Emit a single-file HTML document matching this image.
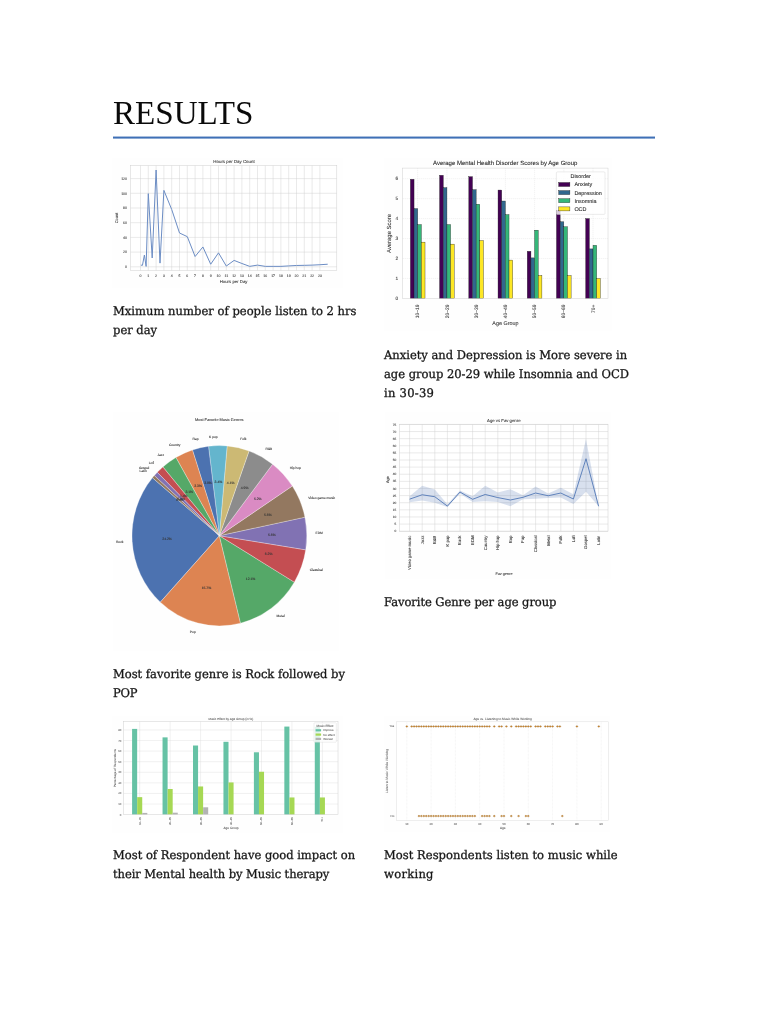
<!DOCTYPE html>
<html lang="en">
<head>
<meta charset="utf-8">
<title>RESULTS</title>
<style>
html,body{margin:0;padding:0;background:#fff;}
body{width:768px;height:1024px;position:relative;overflow:hidden;color:#111;}
h1{position:absolute;left:112.9px;top:92.7px;margin:0;font:normal 33.15px/40px "Liberation Serif","DejaVu Serif",serif;color:#0a0a0a;letter-spacing:0;white-space:nowrap;transform:scaleY(1.03);transform-origin:0 31.3px;}
.rule{position:absolute;left:113.4px;top:136px;width:541.3px;height:3px;background:linear-gradient(to bottom,rgba(63,112,182,.45) 0,rgba(63,112,182,.45) 1px,#3f70b6 1px,#3f70b6 2px,rgba(63,112,182,.6) 2px,rgba(63,112,182,.6) 3px);}
.ln{position:absolute;display:block;margin:0;font:11.9px/16px "DejaVu Serif",serif;color:#161616;white-space:nowrap;text-rendering:geometricPrecision;-webkit-text-stroke:0.3px #161616;transform:scaleX(.9706);transform-origin:0 0;}
.fig{position:absolute;overflow:hidden;}
.fig svg{filter:blur(.35px);}
.fig svg{display:block;font-family:"Liberation Sans","DejaVu Sans",sans-serif;}
.fig text{stroke:#444;stroke-width:.09px;text-rendering:geometricPrecision;}
.fig .lt text{stroke:#666;stroke-width:.05px;}
</style>
</head>
<body>
<h1>RESULTS</h1>
<div class="rule"></div>

<div class="fig" style="left:112px;top:158px;width:231px;height:130px"><svg width="231" height="130" viewBox="112 158 231 130"><rect x="112" y="158" width="231" height="130" fill="#fefefe"/>
<rect x="130.5" y="165.6" width="206.3" height="104.9" fill="#ffffff"/>
<line x1="140.5" y1="165.6" x2="140.5" y2="270.5" stroke="#d0d0d0" stroke-width="0.45"/>
<line x1="148.3" y1="165.6" x2="148.3" y2="270.5" stroke="#d0d0d0" stroke-width="0.45"/>
<line x1="156.1" y1="165.6" x2="156.1" y2="270.5" stroke="#d0d0d0" stroke-width="0.45"/>
<line x1="163.9" y1="165.6" x2="163.9" y2="270.5" stroke="#d0d0d0" stroke-width="0.45"/>
<line x1="171.7" y1="165.6" x2="171.7" y2="270.5" stroke="#d0d0d0" stroke-width="0.45"/>
<line x1="179.5" y1="165.6" x2="179.5" y2="270.5" stroke="#d0d0d0" stroke-width="0.45"/>
<line x1="187.3" y1="165.6" x2="187.3" y2="270.5" stroke="#d0d0d0" stroke-width="0.45"/>
<line x1="195.1" y1="165.6" x2="195.1" y2="270.5" stroke="#d0d0d0" stroke-width="0.45"/>
<line x1="202.9" y1="165.6" x2="202.9" y2="270.5" stroke="#d0d0d0" stroke-width="0.45"/>
<line x1="210.7" y1="165.6" x2="210.7" y2="270.5" stroke="#d0d0d0" stroke-width="0.45"/>
<line x1="218.5" y1="165.6" x2="218.5" y2="270.5" stroke="#d0d0d0" stroke-width="0.45"/>
<line x1="226.3" y1="165.6" x2="226.3" y2="270.5" stroke="#d0d0d0" stroke-width="0.45"/>
<line x1="234.1" y1="165.6" x2="234.1" y2="270.5" stroke="#d0d0d0" stroke-width="0.45"/>
<line x1="241.9" y1="165.6" x2="241.9" y2="270.5" stroke="#d0d0d0" stroke-width="0.45"/>
<line x1="249.7" y1="165.6" x2="249.7" y2="270.5" stroke="#d0d0d0" stroke-width="0.45"/>
<line x1="257.5" y1="165.6" x2="257.5" y2="270.5" stroke="#d0d0d0" stroke-width="0.45"/>
<line x1="265.3" y1="165.6" x2="265.3" y2="270.5" stroke="#d0d0d0" stroke-width="0.45"/>
<line x1="273.1" y1="165.6" x2="273.1" y2="270.5" stroke="#d0d0d0" stroke-width="0.45"/>
<line x1="280.9" y1="165.6" x2="280.9" y2="270.5" stroke="#d0d0d0" stroke-width="0.45"/>
<line x1="288.7" y1="165.6" x2="288.7" y2="270.5" stroke="#d0d0d0" stroke-width="0.45"/>
<line x1="296.5" y1="165.6" x2="296.5" y2="270.5" stroke="#d0d0d0" stroke-width="0.45"/>
<line x1="304.3" y1="165.6" x2="304.3" y2="270.5" stroke="#d0d0d0" stroke-width="0.45"/>
<line x1="312.1" y1="165.6" x2="312.1" y2="270.5" stroke="#d0d0d0" stroke-width="0.45"/>
<line x1="319.9" y1="165.6" x2="319.9" y2="270.5" stroke="#d0d0d0" stroke-width="0.45"/>
<line x1="130.5" y1="266.8" x2="336.8" y2="266.8" stroke="#d0d0d0" stroke-width="0.45"/>
<line x1="130.5" y1="252.1" x2="336.8" y2="252.1" stroke="#d0d0d0" stroke-width="0.45"/>
<line x1="130.5" y1="237.4" x2="336.8" y2="237.4" stroke="#d0d0d0" stroke-width="0.45"/>
<line x1="130.5" y1="222.7" x2="336.8" y2="222.7" stroke="#d0d0d0" stroke-width="0.45"/>
<line x1="130.5" y1="208" x2="336.8" y2="208" stroke="#d0d0d0" stroke-width="0.45"/>
<line x1="130.5" y1="193.3" x2="336.8" y2="193.3" stroke="#d0d0d0" stroke-width="0.45"/>
<line x1="130.5" y1="178.6" x2="336.8" y2="178.6" stroke="#d0d0d0" stroke-width="0.45"/>
<rect x="130.5" y="165.6" width="206.3" height="104.9" fill="none" stroke="#cfcfcf" stroke-width="0.5"/>
<polyline points="140.89,265.11 142.45,265.33 144.4,255.04 146.12,266.43 148.3,193.67 152.2,257.98 156.1,170 160,263.12 163.9,190.36 171.7,209.47 179.5,232.99 187.3,236.67 195.1,256.51 202.9,246.96 210.7,264.23 218.5,252.84 226.3,266.06 234.1,260.41 241.9,263.49 249.7,266.36 257.5,265.11 265.3,266.36 273.1,266.36 280.9,266.36 288.7,265.92 296.5,265.48 304.3,265.33 312.1,265.11 319.9,264.74 327.7,264.23" fill="none" stroke="#6c8dc4" stroke-width="1.0" stroke-linejoin="round"/>
<text x="140.5" y="277.4" font-size="3.5" text-anchor="middle" fill="#444">0</text>
<text x="148.3" y="277.4" font-size="3.5" text-anchor="middle" fill="#444">1</text>
<text x="156.1" y="277.4" font-size="3.5" text-anchor="middle" fill="#444">2</text>
<text x="163.9" y="277.4" font-size="3.5" text-anchor="middle" fill="#444">3</text>
<text x="171.7" y="277.4" font-size="3.5" text-anchor="middle" fill="#444">4</text>
<text x="179.5" y="277.4" font-size="3.5" text-anchor="middle" fill="#444">5</text>
<text x="187.3" y="277.4" font-size="3.5" text-anchor="middle" fill="#444">6</text>
<text x="195.1" y="277.4" font-size="3.5" text-anchor="middle" fill="#444">7</text>
<text x="202.9" y="277.4" font-size="3.5" text-anchor="middle" fill="#444">8</text>
<text x="210.7" y="277.4" font-size="3.5" text-anchor="middle" fill="#444">9</text>
<text x="218.5" y="277.4" font-size="3.5" text-anchor="middle" fill="#444">10</text>
<text x="226.3" y="277.4" font-size="3.5" text-anchor="middle" fill="#444">11</text>
<text x="234.1" y="277.4" font-size="3.5" text-anchor="middle" fill="#444">12</text>
<text x="241.9" y="277.4" font-size="3.5" text-anchor="middle" fill="#444">13</text>
<text x="249.7" y="277.4" font-size="3.5" text-anchor="middle" fill="#444">14</text>
<text x="257.5" y="277.4" font-size="3.5" text-anchor="middle" fill="#444">15</text>
<text x="265.3" y="277.4" font-size="3.5" text-anchor="middle" fill="#444">16</text>
<text x="273.1" y="277.4" font-size="3.5" text-anchor="middle" fill="#444">17</text>
<text x="280.9" y="277.4" font-size="3.5" text-anchor="middle" fill="#444">18</text>
<text x="288.7" y="277.4" font-size="3.5" text-anchor="middle" fill="#444">19</text>
<text x="296.5" y="277.4" font-size="3.5" text-anchor="middle" fill="#444">20</text>
<text x="304.3" y="277.4" font-size="3.5" text-anchor="middle" fill="#444">21</text>
<text x="312.1" y="277.4" font-size="3.5" text-anchor="middle" fill="#444">22</text>
<text x="319.9" y="277.4" font-size="3.5" text-anchor="middle" fill="#444">23</text>
<text x="127" y="268" font-size="3.5" text-anchor="end" fill="#444">0</text>
<text x="127" y="253.3" font-size="3.5" text-anchor="end" fill="#444">20</text>
<text x="127" y="238.6" font-size="3.5" text-anchor="end" fill="#444">40</text>
<text x="127" y="223.9" font-size="3.5" text-anchor="end" fill="#444">60</text>
<text x="127" y="209.2" font-size="3.5" text-anchor="end" fill="#444">80</text>
<text x="127" y="194.5" font-size="3.5" text-anchor="end" fill="#444">100</text>
<text x="127" y="179.8" font-size="3.5" text-anchor="end" fill="#444">120</text>
<text x="234" y="163.3" font-size="4.41" text-anchor="middle" fill="#333">Hours per Day Count</text>
<text x="233.6" y="282.6" font-size="4.3" text-anchor="middle" fill="#333">Hours per Day</text>
<text x="118.2" y="218" font-size="4.0" text-anchor="middle" fill="#333" transform="rotate(-90 118.2 218)">Count</text>
</svg></div>
<div class="fig" style="left:384px;top:158px;width:228px;height:173px"><svg width="228" height="173" viewBox="384 158 228 173"><rect x="384" y="158" width="228" height="173" fill="#fefefe"/>
<rect x="402.7" y="168.1" width="205.3" height="130.3" fill="#ffffff"/>
<line x1="417.7" y1="168.1" x2="417.7" y2="298.4" stroke="#dedede" stroke-width="0.4" stroke-dasharray="1.2 0.8"/>
<line x1="446.92" y1="168.1" x2="446.92" y2="298.4" stroke="#dedede" stroke-width="0.4" stroke-dasharray="1.2 0.8"/>
<line x1="476.14" y1="168.1" x2="476.14" y2="298.4" stroke="#dedede" stroke-width="0.4" stroke-dasharray="1.2 0.8"/>
<line x1="505.36" y1="168.1" x2="505.36" y2="298.4" stroke="#dedede" stroke-width="0.4" stroke-dasharray="1.2 0.8"/>
<line x1="534.58" y1="168.1" x2="534.58" y2="298.4" stroke="#dedede" stroke-width="0.4" stroke-dasharray="1.2 0.8"/>
<line x1="563.8" y1="168.1" x2="563.8" y2="298.4" stroke="#dedede" stroke-width="0.4" stroke-dasharray="1.2 0.8"/>
<line x1="593.02" y1="168.1" x2="593.02" y2="298.4" stroke="#dedede" stroke-width="0.4" stroke-dasharray="1.2 0.8"/>
<line x1="402.7" y1="278.45" x2="608" y2="278.45" stroke="#dedede" stroke-width="0.4" stroke-dasharray="1.2 0.8"/>
<line x1="402.7" y1="258.5" x2="608" y2="258.5" stroke="#dedede" stroke-width="0.4" stroke-dasharray="1.2 0.8"/>
<line x1="402.7" y1="238.55" x2="608" y2="238.55" stroke="#dedede" stroke-width="0.4" stroke-dasharray="1.2 0.8"/>
<line x1="402.7" y1="218.6" x2="608" y2="218.6" stroke="#dedede" stroke-width="0.4" stroke-dasharray="1.2 0.8"/>
<line x1="402.7" y1="198.65" x2="608" y2="198.65" stroke="#dedede" stroke-width="0.4" stroke-dasharray="1.2 0.8"/>
<line x1="402.7" y1="178.7" x2="608" y2="178.7" stroke="#dedede" stroke-width="0.4" stroke-dasharray="1.2 0.8"/>
<rect x="410.38" y="179.3" width="3.66" height="119.1" fill="#440154" stroke="#1a1a1a" stroke-width="0.35"/>
<rect x="414.04" y="208.62" width="3.66" height="89.77" fill="#31688e" stroke="#1a1a1a" stroke-width="0.35"/>
<rect x="417.7" y="224.58" width="3.66" height="73.81" fill="#35b779" stroke="#1a1a1a" stroke-width="0.35"/>
<rect x="421.36" y="242.14" width="3.66" height="56.26" fill="#fde725" stroke="#1a1a1a" stroke-width="0.35"/>
<rect x="439.6" y="175.31" width="3.66" height="123.09" fill="#440154" stroke="#1a1a1a" stroke-width="0.35"/>
<rect x="443.26" y="187.68" width="3.66" height="110.72" fill="#31688e" stroke="#1a1a1a" stroke-width="0.35"/>
<rect x="446.92" y="224.58" width="3.66" height="73.81" fill="#35b779" stroke="#1a1a1a" stroke-width="0.35"/>
<rect x="450.58" y="244.14" width="3.66" height="54.26" fill="#fde725" stroke="#1a1a1a" stroke-width="0.35"/>
<rect x="468.82" y="176.7" width="3.66" height="121.69" fill="#440154" stroke="#1a1a1a" stroke-width="0.35"/>
<rect x="472.48" y="189.67" width="3.66" height="108.73" fill="#31688e" stroke="#1a1a1a" stroke-width="0.35"/>
<rect x="476.14" y="204.24" width="3.66" height="94.16" fill="#35b779" stroke="#1a1a1a" stroke-width="0.35"/>
<rect x="479.8" y="240.54" width="3.66" height="57.85" fill="#fde725" stroke="#1a1a1a" stroke-width="0.35"/>
<rect x="498.04" y="190.07" width="3.66" height="108.33" fill="#440154" stroke="#1a1a1a" stroke-width="0.35"/>
<rect x="501.7" y="201.04" width="3.66" height="97.36" fill="#31688e" stroke="#1a1a1a" stroke-width="0.35"/>
<rect x="505.36" y="214.61" width="3.66" height="83.79" fill="#35b779" stroke="#1a1a1a" stroke-width="0.35"/>
<rect x="509.02" y="260.1" width="3.66" height="38.3" fill="#fde725" stroke="#1a1a1a" stroke-width="0.35"/>
<rect x="527.26" y="251.32" width="3.66" height="47.08" fill="#440154" stroke="#1a1a1a" stroke-width="0.35"/>
<rect x="530.92" y="257.9" width="3.66" height="40.5" fill="#31688e" stroke="#1a1a1a" stroke-width="0.35"/>
<rect x="534.58" y="230.17" width="3.66" height="68.23" fill="#35b779" stroke="#1a1a1a" stroke-width="0.35"/>
<rect x="538.24" y="275.46" width="3.66" height="22.94" fill="#fde725" stroke="#1a1a1a" stroke-width="0.35"/>
<rect x="556.48" y="210.22" width="3.66" height="88.18" fill="#440154" stroke="#1a1a1a" stroke-width="0.35"/>
<rect x="560.14" y="221.79" width="3.66" height="76.61" fill="#31688e" stroke="#1a1a1a" stroke-width="0.35"/>
<rect x="563.8" y="226.78" width="3.66" height="71.62" fill="#35b779" stroke="#1a1a1a" stroke-width="0.35"/>
<rect x="567.46" y="275.46" width="3.66" height="22.94" fill="#fde725" stroke="#1a1a1a" stroke-width="0.35"/>
<rect x="585.7" y="218.6" width="3.66" height="79.8" fill="#440154" stroke="#1a1a1a" stroke-width="0.35"/>
<rect x="589.36" y="248.92" width="3.66" height="49.48" fill="#31688e" stroke="#1a1a1a" stroke-width="0.35"/>
<rect x="593.02" y="245.33" width="3.66" height="53.07" fill="#35b779" stroke="#1a1a1a" stroke-width="0.35"/>
<rect x="596.68" y="278.45" width="3.66" height="19.95" fill="#fde725" stroke="#1a1a1a" stroke-width="0.35"/>
<rect x="402.7" y="168.1" width="205.3" height="130.3" fill="none" stroke="#d0d0d0" stroke-width="0.5"/>
<text x="398.2" y="300.1" font-size="4.8" text-anchor="end" fill="#444">0</text>
<text x="398.2" y="280.15" font-size="4.8" text-anchor="end" fill="#444">1</text>
<text x="398.2" y="260.2" font-size="4.8" text-anchor="end" fill="#444">2</text>
<text x="398.2" y="240.25" font-size="4.8" text-anchor="end" fill="#444">3</text>
<text x="398.2" y="220.3" font-size="4.8" text-anchor="end" fill="#444">4</text>
<text x="398.2" y="200.35" font-size="4.8" text-anchor="end" fill="#444">5</text>
<text x="398.2" y="180.4" font-size="4.8" text-anchor="end" fill="#444">6</text>
<text x="419.4" y="304.6" font-size="4.9" text-anchor="end" fill="#444" transform="rotate(-90 419.4 304.6)">10–19</text>
<text x="448.62" y="304.6" font-size="4.9" text-anchor="end" fill="#444" transform="rotate(-90 448.62 304.6)">20–29</text>
<text x="477.84" y="304.6" font-size="4.9" text-anchor="end" fill="#444" transform="rotate(-90 477.84 304.6)">30–39</text>
<text x="507.06" y="304.6" font-size="4.9" text-anchor="end" fill="#444" transform="rotate(-90 507.06 304.6)">40–49</text>
<text x="536.28" y="304.6" font-size="4.9" text-anchor="end" fill="#444" transform="rotate(-90 536.28 304.6)">50–59</text>
<text x="565.5" y="304.6" font-size="4.9" text-anchor="end" fill="#444" transform="rotate(-90 565.5 304.6)">60–69</text>
<text x="594.72" y="304.6" font-size="4.9" text-anchor="end" fill="#444" transform="rotate(-90 594.72 304.6)">70+</text>
<text x="505.2" y="164.8" font-size="6.03" text-anchor="middle" fill="#222">Average Mental Health Disorder Scores by Age Group</text>
<text x="505.4" y="325.2" font-size="5.4" text-anchor="middle" fill="#333">Age Group</text>
<text x="391.4" y="233.5" font-size="5.9" text-anchor="middle" fill="#333" transform="rotate(-90 391.4 233.5)">Average Score</text>
<rect x="556.4" y="171.9" width="48.6" height="42.5" fill="#ffffff" stroke="#d0d0d0" stroke-width="0.4" fill-opacity="0.8" rx="1"/>
<text x="580.7" y="178.2" font-size="5.4" text-anchor="middle" fill="#222">Disorder</text>
<rect x="558.7" y="182.5" width="11.2" height="4" fill="#440154" stroke="#1a1a1a" stroke-width="0.35"/>
<text x="574.4" y="186.4" font-size="5.45" text-anchor="start" fill="#222">Anxiety</text>
<rect x="558.7" y="190.6" width="11.2" height="4" fill="#31688e" stroke="#1a1a1a" stroke-width="0.35"/>
<text x="574.4" y="194.5" font-size="5.45" text-anchor="start" fill="#222">Depression</text>
<rect x="558.7" y="198.7" width="11.2" height="4" fill="#35b779" stroke="#1a1a1a" stroke-width="0.35"/>
<text x="574.4" y="202.6" font-size="5.45" text-anchor="start" fill="#222">Insomnia</text>
<rect x="558.7" y="206.9" width="11.2" height="4" fill="#fde725" stroke="#1a1a1a" stroke-width="0.35"/>
<text x="574.4" y="210.8" font-size="5.45" text-anchor="start" fill="#222">OCD</text>
</svg></div>
<div class="fig" style="left:113px;top:412px;width:226px;height:239px"><svg width="226" height="239" viewBox="113 412 226 239"><rect x="113" y="412" width="226" height="239" fill="#fefefe"/>
<path d="M219.4,535.7 L152.45,477.75 A87.4,90.15 0 0 0 160.33,602.14 Z" fill="#4c72b0" stroke="#ffffff" stroke-width="0.3" stroke-linejoin="round"/>
<path d="M219.4,535.7 L160.33,602.14 A87.4,90.15 0 0 0 240.54,623.17 Z" fill="#dd8452" stroke="#ffffff" stroke-width="0.3" stroke-linejoin="round"/>
<path d="M219.4,535.7 L240.54,623.17 A87.4,90.15 0 0 0 294.32,582.13 Z" fill="#55a868" stroke="#ffffff" stroke-width="0.3" stroke-linejoin="round"/>
<path d="M219.4,535.7 L294.32,582.13 A87.4,90.15 0 0 0 305.71,549.86 Z" fill="#c44e52" stroke="#ffffff" stroke-width="0.3" stroke-linejoin="round"/>
<path d="M219.4,535.7 L305.71,549.86 A87.4,90.15 0 0 0 304.94,517.2 Z" fill="#8172b3" stroke="#ffffff" stroke-width="0.3" stroke-linejoin="round"/>
<path d="M219.4,535.7 L304.94,517.2 A87.4,90.15 0 0 0 292.33,486.02 Z" fill="#937860" stroke="#ffffff" stroke-width="0.3" stroke-linejoin="round"/>
<path d="M219.4,535.7 L292.33,486.02 A87.4,90.15 0 0 0 272.58,464.16 Z" fill="#da8bc3" stroke="#ffffff" stroke-width="0.3" stroke-linejoin="round"/>
<path d="M219.4,535.7 L272.58,464.16 A87.4,90.15 0 0 0 249.06,450.9 Z" fill="#8c8c8c" stroke="#ffffff" stroke-width="0.3" stroke-linejoin="round"/>
<path d="M219.4,535.7 L249.06,450.9 A87.4,90.15 0 0 0 227.14,445.9 Z" fill="#ccb974" stroke="#ffffff" stroke-width="0.3" stroke-linejoin="round"/>
<path d="M219.4,535.7 L227.14,445.9 A87.4,90.15 0 0 0 208.51,446.25 Z" fill="#64b5cd" stroke="#ffffff" stroke-width="0.3" stroke-linejoin="round"/>
<path d="M219.4,535.7 L208.51,446.25 A87.4,90.15 0 0 0 192.45,449.94 Z" fill="#4c72b0" stroke="#ffffff" stroke-width="0.3" stroke-linejoin="round"/>
<path d="M219.4,535.7 L192.45,449.94 A87.4,90.15 0 0 0 175.91,457.5 Z" fill="#dd8452" stroke="#ffffff" stroke-width="0.3" stroke-linejoin="round"/>
<path d="M219.4,535.7 L175.91,457.5 A87.4,90.15 0 0 0 162.89,466.93 Z" fill="#55a868" stroke="#ffffff" stroke-width="0.3" stroke-linejoin="round"/>
<path d="M219.4,535.7 L162.89,466.93 A87.4,90.15 0 0 0 157.25,472.31 Z" fill="#c44e52" stroke="#ffffff" stroke-width="0.3" stroke-linejoin="round"/>
<path d="M219.4,535.7 L157.25,472.31 A87.4,90.15 0 0 0 154.25,475.61 Z" fill="#8172b3" stroke="#ffffff" stroke-width="0.3" stroke-linejoin="round"/>
<path d="M219.4,535.7 L154.25,475.61 A87.4,90.15 0 0 0 152.45,477.75 Z" fill="#937860" stroke="#ffffff" stroke-width="0.3" stroke-linejoin="round"/>
<text x="123.46" y="543.27" font-size="3.3" text-anchor="end" fill="#333">Rock</text>
<text x="167.07" y="540.43" font-size="3.4" text-anchor="middle" fill="#2a2a2a">24.2%</text>
<text x="195.72" y="632.91" font-size="3.3" text-anchor="end" fill="#333">Pop</text>
<text x="206.48" y="589.32" font-size="3.4" text-anchor="middle" fill="#2a2a2a">15.7%</text>
<text x="276.59" y="616.51" font-size="3.3" text-anchor="start" fill="#333">Metal</text>
<text x="250.59" y="580.38" font-size="3.4" text-anchor="middle" fill="#2a2a2a">12.1%</text>
<text x="309.73" y="570.75" font-size="3.3" text-anchor="start" fill="#333">Classical</text>
<text x="268.67" y="555.42" font-size="3.4" text-anchor="middle" fill="#2a2a2a">6.2%</text>
<text x="315.51" y="534.38" font-size="3.3" text-anchor="start" fill="#333">EDM</text>
<text x="271.82" y="535.58" font-size="3.4" text-anchor="middle" fill="#2a2a2a">5.6%</text>
<text x="308.13" y="498.63" font-size="3.3" text-anchor="start" fill="#333">Video game music</text>
<text x="267.8" y="516.08" font-size="3.4" text-anchor="middle" fill="#2a2a2a">5.6%</text>
<text x="289.74" y="469.19" font-size="3.3" text-anchor="start" fill="#333">Hip hop</text>
<text x="257.76" y="500.02" font-size="3.4" text-anchor="middle" fill="#2a2a2a">5.2%</text>
<text x="265.51" y="449.78" font-size="3.3" text-anchor="start" fill="#333">R&amp;B</text>
<text x="244.55" y="489.44" font-size="3.4" text-anchor="middle" fill="#2a2a2a">4.9%</text>
<text x="240.14" y="439.97" font-size="3.3" text-anchor="start" fill="#333">Folk</text>
<text x="230.71" y="484.08" font-size="3.4" text-anchor="middle" fill="#2a2a2a">4.1%</text>
<text x="217.66" y="437.65" font-size="3.3" text-anchor="end" fill="#333">K pop</text>
<text x="218.45" y="482.82" font-size="3.4" text-anchor="middle" fill="#2a2a2a">3.4%</text>
<text x="198.49" y="440.01" font-size="3.3" text-anchor="end" fill="#333">Rap</text>
<text x="208" y="484.1" font-size="3.4" text-anchor="middle" fill="#2a2a2a">3.0%</text>
<text x="180.45" y="446.14" font-size="3.3" text-anchor="end" fill="#333">Country</text>
<text x="198.15" y="487.45" font-size="3.4" text-anchor="middle" fill="#2a2a2a">3.3%</text>
<text x="164.17" y="455.63" font-size="3.3" text-anchor="end" fill="#333">Jazz</text>
<text x="189.28" y="492.62" font-size="3.4" text-anchor="middle" fill="#2a2a2a">3.1%</text>
<text x="154.08" y="464.04" font-size="3.3" text-anchor="end" fill="#333">Lofi</text>
<text x="183.77" y="497.21" font-size="3.4" text-anchor="middle" fill="#2a2a2a">1.4%</text>
<text x="149.36" y="468.87" font-size="3.3" text-anchor="end" fill="#333">Gospel</text>
<text x="181.2" y="499.85" font-size="3.4" text-anchor="middle" fill="#2a2a2a">0.8%</text>
<text x="146.73" y="471.87" font-size="3.3" text-anchor="end" fill="#333">Latin</text>
<text x="179.76" y="501.49" font-size="3.4" text-anchor="middle" fill="#2a2a2a">0.4%</text>
<text x="219.3" y="421" font-size="3.88" text-anchor="middle" fill="#333">Most Favorite Music Genres</text>
</svg></div>
<div class="fig" style="left:385px;top:412px;width:226px;height:167px"><svg width="226" height="167" viewBox="385 412 226 167"><rect x="385" y="412" width="226" height="167" fill="#fefefe"/>
<rect x="399.4" y="424.4" width="208.6" height="106.8" fill="#ffffff"/>
<line x1="409.6" y1="424.4" x2="409.6" y2="531.2" stroke="#d0d0d0" stroke-width="0.45"/>
<line x1="422.2" y1="424.4" x2="422.2" y2="531.2" stroke="#d0d0d0" stroke-width="0.45"/>
<line x1="434.8" y1="424.4" x2="434.8" y2="531.2" stroke="#d0d0d0" stroke-width="0.45"/>
<line x1="447.4" y1="424.4" x2="447.4" y2="531.2" stroke="#d0d0d0" stroke-width="0.45"/>
<line x1="460" y1="424.4" x2="460" y2="531.2" stroke="#d0d0d0" stroke-width="0.45"/>
<line x1="472.6" y1="424.4" x2="472.6" y2="531.2" stroke="#d0d0d0" stroke-width="0.45"/>
<line x1="485.2" y1="424.4" x2="485.2" y2="531.2" stroke="#d0d0d0" stroke-width="0.45"/>
<line x1="497.8" y1="424.4" x2="497.8" y2="531.2" stroke="#d0d0d0" stroke-width="0.45"/>
<line x1="510.4" y1="424.4" x2="510.4" y2="531.2" stroke="#d0d0d0" stroke-width="0.45"/>
<line x1="523" y1="424.4" x2="523" y2="531.2" stroke="#d0d0d0" stroke-width="0.45"/>
<line x1="535.6" y1="424.4" x2="535.6" y2="531.2" stroke="#d0d0d0" stroke-width="0.45"/>
<line x1="548.2" y1="424.4" x2="548.2" y2="531.2" stroke="#d0d0d0" stroke-width="0.45"/>
<line x1="560.8" y1="424.4" x2="560.8" y2="531.2" stroke="#d0d0d0" stroke-width="0.45"/>
<line x1="573.4" y1="424.4" x2="573.4" y2="531.2" stroke="#d0d0d0" stroke-width="0.45"/>
<line x1="586" y1="424.4" x2="586" y2="531.2" stroke="#d0d0d0" stroke-width="0.45"/>
<line x1="598.6" y1="424.4" x2="598.6" y2="531.2" stroke="#d0d0d0" stroke-width="0.45"/>
<line x1="399.4" y1="531.2" x2="608" y2="531.2" stroke="#d0d0d0" stroke-width="0.45"/>
<line x1="399.4" y1="524.08" x2="608" y2="524.08" stroke="#d0d0d0" stroke-width="0.45"/>
<line x1="399.4" y1="516.96" x2="608" y2="516.96" stroke="#d0d0d0" stroke-width="0.45"/>
<line x1="399.4" y1="509.84" x2="608" y2="509.84" stroke="#d0d0d0" stroke-width="0.45"/>
<line x1="399.4" y1="502.72" x2="608" y2="502.72" stroke="#d0d0d0" stroke-width="0.45"/>
<line x1="399.4" y1="495.6" x2="608" y2="495.6" stroke="#d0d0d0" stroke-width="0.45"/>
<line x1="399.4" y1="488.48" x2="608" y2="488.48" stroke="#d0d0d0" stroke-width="0.45"/>
<line x1="399.4" y1="481.36" x2="608" y2="481.36" stroke="#d0d0d0" stroke-width="0.45"/>
<line x1="399.4" y1="474.24" x2="608" y2="474.24" stroke="#d0d0d0" stroke-width="0.45"/>
<line x1="399.4" y1="467.12" x2="608" y2="467.12" stroke="#d0d0d0" stroke-width="0.45"/>
<line x1="399.4" y1="460" x2="608" y2="460" stroke="#d0d0d0" stroke-width="0.45"/>
<line x1="399.4" y1="452.88" x2="608" y2="452.88" stroke="#d0d0d0" stroke-width="0.45"/>
<line x1="399.4" y1="445.76" x2="608" y2="445.76" stroke="#d0d0d0" stroke-width="0.45"/>
<line x1="399.4" y1="438.64" x2="608" y2="438.64" stroke="#d0d0d0" stroke-width="0.45"/>
<line x1="399.4" y1="431.52" x2="608" y2="431.52" stroke="#d0d0d0" stroke-width="0.45"/>
<line x1="399.4" y1="424.4" x2="608" y2="424.4" stroke="#d0d0d0" stroke-width="0.45"/>
<rect x="399.4" y="424.4" width="208.6" height="106.8" fill="none" stroke="#cfcfcf" stroke-width="0.5"/>
<polygon points="409.6,496.17 422.2,485.63 434.8,489.48 447.4,504.14 460,490.47 472.6,496.31 485.2,485.63 497.8,492.47 510.4,489.33 523,495.17 535.6,486.49 548.2,493.46 560.8,487.77 573.4,494.32 586,439.07 598.6,506.28 598.6,506.28 586,491.76 573.4,504 560.8,497.45 548.2,497.88 535.6,498.73 523,499.3 510.4,506.28 497.8,502.01 485.2,501.3 472.6,502.01 460,493.61 447.4,506.99 434.8,502.72 422.2,500.58 409.6,502.29" fill="#4c72b0" fill-opacity="0.22"/>
<polyline points="409.6,499.16 422.2,494.75 434.8,496.74 447.4,506.14 460,492.04 472.6,499.3 485.2,494.46 497.8,497.59 510.4,500.01 523,497.31 535.6,493.04 548.2,495.74 560.8,493.04 573.4,499.02 586,458.72 598.6,506.28" fill="none" stroke="#6083bc" stroke-width="1.0" stroke-linejoin="round"/>
<text x="396.3" y="532.3" font-size="3.2" text-anchor="end" fill="#444">0</text>
<text x="396.3" y="525.18" font-size="3.2" text-anchor="end" fill="#444">5</text>
<text x="396.3" y="518.06" font-size="3.2" text-anchor="end" fill="#444">10</text>
<text x="396.3" y="510.94" font-size="3.2" text-anchor="end" fill="#444">15</text>
<text x="396.3" y="503.82" font-size="3.2" text-anchor="end" fill="#444">20</text>
<text x="396.3" y="496.7" font-size="3.2" text-anchor="end" fill="#444">25</text>
<text x="396.3" y="489.58" font-size="3.2" text-anchor="end" fill="#444">30</text>
<text x="396.3" y="482.46" font-size="3.2" text-anchor="end" fill="#444">35</text>
<text x="396.3" y="475.34" font-size="3.2" text-anchor="end" fill="#444">40</text>
<text x="396.3" y="468.22" font-size="3.2" text-anchor="end" fill="#444">45</text>
<text x="396.3" y="461.1" font-size="3.2" text-anchor="end" fill="#444">50</text>
<text x="396.3" y="453.98" font-size="3.2" text-anchor="end" fill="#444">55</text>
<text x="396.3" y="446.86" font-size="3.2" text-anchor="end" fill="#444">60</text>
<text x="396.3" y="439.74" font-size="3.2" text-anchor="end" fill="#444">65</text>
<text x="396.3" y="432.62" font-size="3.2" text-anchor="end" fill="#444">70</text>
<text x="396.3" y="425.5" font-size="3.2" text-anchor="end" fill="#444">75</text>
<text x="411" y="535.6" font-size="4.2" text-anchor="end" fill="#444" transform="rotate(-90 411 535.6)">Video game music</text>
<text x="423.6" y="535.6" font-size="4.2" text-anchor="end" fill="#444" transform="rotate(-90 423.6 535.6)">Jazz</text>
<text x="436.2" y="535.6" font-size="4.2" text-anchor="end" fill="#444" transform="rotate(-90 436.2 535.6)">R&amp;B</text>
<text x="448.8" y="535.6" font-size="4.2" text-anchor="end" fill="#444" transform="rotate(-90 448.8 535.6)">K pop</text>
<text x="461.4" y="535.6" font-size="4.2" text-anchor="end" fill="#444" transform="rotate(-90 461.4 535.6)">Rock</text>
<text x="474" y="535.6" font-size="4.2" text-anchor="end" fill="#444" transform="rotate(-90 474 535.6)">EDM</text>
<text x="486.6" y="535.6" font-size="4.2" text-anchor="end" fill="#444" transform="rotate(-90 486.6 535.6)">Country</text>
<text x="499.2" y="535.6" font-size="4.2" text-anchor="end" fill="#444" transform="rotate(-90 499.2 535.6)">Hip hop</text>
<text x="511.8" y="535.6" font-size="4.2" text-anchor="end" fill="#444" transform="rotate(-90 511.8 535.6)">Rap</text>
<text x="524.4" y="535.6" font-size="4.2" text-anchor="end" fill="#444" transform="rotate(-90 524.4 535.6)">Pop</text>
<text x="537" y="535.6" font-size="4.2" text-anchor="end" fill="#444" transform="rotate(-90 537 535.6)">Classical</text>
<text x="549.6" y="535.6" font-size="4.2" text-anchor="end" fill="#444" transform="rotate(-90 549.6 535.6)">Metal</text>
<text x="562.2" y="535.6" font-size="4.2" text-anchor="end" fill="#444" transform="rotate(-90 562.2 535.6)">Folk</text>
<text x="574.8" y="535.6" font-size="4.2" text-anchor="end" fill="#444" transform="rotate(-90 574.8 535.6)">Lofi</text>
<text x="587.4" y="535.6" font-size="4.2" text-anchor="end" fill="#444" transform="rotate(-90 587.4 535.6)">Gospel</text>
<text x="600" y="535.6" font-size="4.2" text-anchor="end" fill="#444" transform="rotate(-90 600 535.6)">Latin</text>
<text x="503.8" y="421.8" font-size="4.27" text-anchor="middle" fill="#333">Age vs Fav genre</text>
<text x="504" y="574.6" font-size="3.8" text-anchor="middle" fill="#333">Fav genre</text>
<text x="388.9" y="479.5" font-size="3.9" text-anchor="middle" fill="#333" transform="rotate(-90 388.9 479.5)">Age</text>
</svg></div>
<div class="fig" style="left:112px;top:716px;width:231px;height:117px"><svg width="231" height="117" viewBox="112 716 231 117"><rect x="112" y="716" width="231" height="117" fill="#fefefe"/>
<g class="lt"><rect x="123.6" y="721.5" width="214.4" height="93.1" fill="#ffffff"/>
<line x1="139.7" y1="721.5" x2="139.7" y2="814.6" stroke="#dcdcdc" stroke-width="0.4"/>
<line x1="170.15" y1="721.5" x2="170.15" y2="814.6" stroke="#dcdcdc" stroke-width="0.4"/>
<line x1="200.6" y1="721.5" x2="200.6" y2="814.6" stroke="#dcdcdc" stroke-width="0.4"/>
<line x1="231.05" y1="721.5" x2="231.05" y2="814.6" stroke="#dcdcdc" stroke-width="0.4"/>
<line x1="261.5" y1="721.5" x2="261.5" y2="814.6" stroke="#dcdcdc" stroke-width="0.4"/>
<line x1="291.95" y1="721.5" x2="291.95" y2="814.6" stroke="#dcdcdc" stroke-width="0.4"/>
<line x1="322.4" y1="721.5" x2="322.4" y2="814.6" stroke="#dcdcdc" stroke-width="0.4"/>
<line x1="123.6" y1="804.02" x2="338" y2="804.02" stroke="#dcdcdc" stroke-width="0.4"/>
<line x1="123.6" y1="793.44" x2="338" y2="793.44" stroke="#dcdcdc" stroke-width="0.4"/>
<line x1="123.6" y1="782.86" x2="338" y2="782.86" stroke="#dcdcdc" stroke-width="0.4"/>
<line x1="123.6" y1="772.28" x2="338" y2="772.28" stroke="#dcdcdc" stroke-width="0.4"/>
<line x1="123.6" y1="761.7" x2="338" y2="761.7" stroke="#dcdcdc" stroke-width="0.4"/>
<line x1="123.6" y1="751.12" x2="338" y2="751.12" stroke="#dcdcdc" stroke-width="0.4"/>
<line x1="123.6" y1="740.54" x2="338" y2="740.54" stroke="#dcdcdc" stroke-width="0.4"/>
<line x1="123.6" y1="729.96" x2="338" y2="729.96" stroke="#dcdcdc" stroke-width="0.4"/>
<rect x="132.09" y="728.9" width="5.07" height="85.7" fill="#66c2a5"/>
<rect x="137.16" y="797.14" width="5.07" height="17.46" fill="#a6d854"/>
<rect x="142.24" y="812.91" width="5.07" height="1.69" fill="#b3b3b3"/>
<rect x="162.54" y="737.37" width="5.07" height="77.23" fill="#66c2a5"/>
<rect x="167.61" y="789" width="5.07" height="25.6" fill="#a6d854"/>
<rect x="172.69" y="812.7" width="5.07" height="1.9" fill="#b3b3b3"/>
<rect x="193" y="745.51" width="5.07" height="69.09" fill="#66c2a5"/>
<rect x="198.06" y="786.46" width="5.07" height="28.14" fill="#a6d854"/>
<rect x="203.13" y="807.3" width="5.07" height="7.3" fill="#b3b3b3"/>
<rect x="223.44" y="741.81" width="5.07" height="72.79" fill="#66c2a5"/>
<rect x="228.51" y="782.44" width="5.07" height="32.16" fill="#a6d854"/>
<rect x="253.9" y="752.28" width="5.07" height="62.32" fill="#66c2a5"/>
<rect x="258.97" y="771.75" width="5.07" height="42.85" fill="#a6d854"/>
<rect x="284.34" y="726.57" width="5.07" height="88.03" fill="#66c2a5"/>
<rect x="289.41" y="797.46" width="5.07" height="17.14" fill="#a6d854"/>
<rect x="314.79" y="726.79" width="5.07" height="87.81" fill="#66c2a5"/>
<rect x="319.86" y="797.46" width="5.07" height="17.14" fill="#a6d854"/>
<rect x="123.6" y="721.5" width="214.4" height="93.1" fill="none" stroke="#d0d0d0" stroke-width="0.5"/>
<text x="121.3" y="815.6" font-size="2.8" text-anchor="end" fill="#606060">0</text>
<text x="121.3" y="805.02" font-size="2.8" text-anchor="end" fill="#606060">10</text>
<text x="121.3" y="794.44" font-size="2.8" text-anchor="end" fill="#606060">20</text>
<text x="121.3" y="783.86" font-size="2.8" text-anchor="end" fill="#606060">30</text>
<text x="121.3" y="773.28" font-size="2.8" text-anchor="end" fill="#606060">40</text>
<text x="121.3" y="762.7" font-size="2.8" text-anchor="end" fill="#606060">50</text>
<text x="121.3" y="752.12" font-size="2.8" text-anchor="end" fill="#606060">60</text>
<text x="121.3" y="741.54" font-size="2.8" text-anchor="end" fill="#606060">70</text>
<text x="121.3" y="730.96" font-size="2.8" text-anchor="end" fill="#606060">80</text>
<text x="140.7" y="817.2" font-size="2.8" text-anchor="end" fill="#606060" transform="rotate(-90 140.7 817.2)">10–19</text>
<text x="171.15" y="817.2" font-size="2.8" text-anchor="end" fill="#606060" transform="rotate(-90 171.15 817.2)">20–29</text>
<text x="201.6" y="817.2" font-size="2.8" text-anchor="end" fill="#606060" transform="rotate(-90 201.6 817.2)">30–39</text>
<text x="232.05" y="817.2" font-size="2.8" text-anchor="end" fill="#606060" transform="rotate(-90 232.05 817.2)">40–49</text>
<text x="262.5" y="817.2" font-size="2.8" text-anchor="end" fill="#606060" transform="rotate(-90 262.5 817.2)">50–59</text>
<text x="292.95" y="817.2" font-size="2.8" text-anchor="end" fill="#606060" transform="rotate(-90 292.95 817.2)">60–69</text>
<text x="323.4" y="817.2" font-size="2.8" text-anchor="end" fill="#606060" transform="rotate(-90 323.4 817.2)">70+</text>
<text x="230.8" y="720.3" font-size="3.06" text-anchor="middle" fill="#555">Music Effect by Age Group (in %)</text>
<text x="231" y="829" font-size="3.1" text-anchor="middle" fill="#555">Age Group</text>
<text x="116.2" y="768" font-size="3.1" text-anchor="middle" fill="#555" transform="rotate(-90 116.2 768)">Percentage of Respondents</text>
<rect x="314" y="722.8" width="22.3" height="19.4" fill="#ffffff" stroke="#d0d0d0" stroke-width="0.35" fill-opacity="0.8" rx="0.7"/>
<text x="325" y="726.8" font-size="3.1" text-anchor="middle" fill="#555">Music Effect</text>
<rect x="315.6" y="729.2" width="5.5" height="2.2" fill="#66c2a5"/>
<text x="323.2" y="731.3" font-size="2.9" text-anchor="start" fill="#555">Improve</text>
<rect x="315.6" y="733.5" width="5.5" height="2.2" fill="#a6d854"/>
<text x="323.2" y="735.6" font-size="2.9" text-anchor="start" fill="#555">No effect</text>
<rect x="315.6" y="737.8" width="5.5" height="2.2" fill="#b3b3b3"/>
<text x="323.2" y="739.9" font-size="2.9" text-anchor="start" fill="#555">Worsen</text></g>
</svg></div>
<div class="fig" style="left:384px;top:716px;width:226px;height:116px"><svg width="226" height="116" viewBox="384 716 226 116"><rect x="384" y="716" width="226" height="116" fill="#fefefe"/>
<g class="lt"><rect x="396.6" y="721.8" width="211.9" height="98.6" fill="#ffffff"/>
<line x1="406.8" y1="721.8" x2="406.8" y2="820.4" stroke="#e2e2e2" stroke-width="0.4" stroke-dasharray="0.8 0.6"/>
<line x1="431.1" y1="721.8" x2="431.1" y2="820.4" stroke="#e2e2e2" stroke-width="0.4" stroke-dasharray="0.8 0.6"/>
<line x1="455.4" y1="721.8" x2="455.4" y2="820.4" stroke="#e2e2e2" stroke-width="0.4" stroke-dasharray="0.8 0.6"/>
<line x1="479.7" y1="721.8" x2="479.7" y2="820.4" stroke="#e2e2e2" stroke-width="0.4" stroke-dasharray="0.8 0.6"/>
<line x1="504" y1="721.8" x2="504" y2="820.4" stroke="#e2e2e2" stroke-width="0.4" stroke-dasharray="0.8 0.6"/>
<line x1="528.3" y1="721.8" x2="528.3" y2="820.4" stroke="#e2e2e2" stroke-width="0.4" stroke-dasharray="0.8 0.6"/>
<line x1="552.6" y1="721.8" x2="552.6" y2="820.4" stroke="#e2e2e2" stroke-width="0.4" stroke-dasharray="0.8 0.6"/>
<line x1="576.9" y1="721.8" x2="576.9" y2="820.4" stroke="#e2e2e2" stroke-width="0.4" stroke-dasharray="0.8 0.6"/>
<line x1="601.2" y1="721.8" x2="601.2" y2="820.4" stroke="#e2e2e2" stroke-width="0.4" stroke-dasharray="0.8 0.6"/>
<rect x="396.6" y="721.8" width="211.9" height="98.6" fill="none" stroke="#dedede" stroke-width="0.5"/>
<ellipse cx="406.8" cy="726.4" rx="0.95" ry="0.74" fill="#d98e2c" stroke="#86602c" stroke-width="0.32"/>
<ellipse cx="411.66" cy="726.4" rx="0.95" ry="0.74" fill="#d98e2c" stroke="#86602c" stroke-width="0.32"/>
<ellipse cx="414.09" cy="726.4" rx="0.95" ry="0.74" fill="#d98e2c" stroke="#86602c" stroke-width="0.32"/>
<ellipse cx="416.52" cy="726.4" rx="0.95" ry="0.74" fill="#d98e2c" stroke="#86602c" stroke-width="0.32"/>
<ellipse cx="418.95" cy="726.4" rx="0.95" ry="0.74" fill="#d98e2c" stroke="#86602c" stroke-width="0.32"/>
<ellipse cx="421.38" cy="726.4" rx="0.95" ry="0.74" fill="#d98e2c" stroke="#86602c" stroke-width="0.32"/>
<ellipse cx="423.81" cy="726.4" rx="0.95" ry="0.74" fill="#d98e2c" stroke="#86602c" stroke-width="0.32"/>
<ellipse cx="426.24" cy="726.4" rx="0.95" ry="0.74" fill="#d98e2c" stroke="#86602c" stroke-width="0.32"/>
<ellipse cx="428.67" cy="726.4" rx="0.95" ry="0.74" fill="#d98e2c" stroke="#86602c" stroke-width="0.32"/>
<ellipse cx="431.1" cy="726.4" rx="0.95" ry="0.74" fill="#d98e2c" stroke="#86602c" stroke-width="0.32"/>
<ellipse cx="433.53" cy="726.4" rx="0.95" ry="0.74" fill="#d98e2c" stroke="#86602c" stroke-width="0.32"/>
<ellipse cx="435.96" cy="726.4" rx="0.95" ry="0.74" fill="#d98e2c" stroke="#86602c" stroke-width="0.32"/>
<ellipse cx="438.39" cy="726.4" rx="0.95" ry="0.74" fill="#d98e2c" stroke="#86602c" stroke-width="0.32"/>
<ellipse cx="440.82" cy="726.4" rx="0.95" ry="0.74" fill="#d98e2c" stroke="#86602c" stroke-width="0.32"/>
<ellipse cx="443.25" cy="726.4" rx="0.95" ry="0.74" fill="#d98e2c" stroke="#86602c" stroke-width="0.32"/>
<ellipse cx="445.68" cy="726.4" rx="0.95" ry="0.74" fill="#d98e2c" stroke="#86602c" stroke-width="0.32"/>
<ellipse cx="448.11" cy="726.4" rx="0.95" ry="0.74" fill="#d98e2c" stroke="#86602c" stroke-width="0.32"/>
<ellipse cx="450.54" cy="726.4" rx="0.95" ry="0.74" fill="#d98e2c" stroke="#86602c" stroke-width="0.32"/>
<ellipse cx="452.97" cy="726.4" rx="0.95" ry="0.74" fill="#d98e2c" stroke="#86602c" stroke-width="0.32"/>
<ellipse cx="455.4" cy="726.4" rx="0.95" ry="0.74" fill="#d98e2c" stroke="#86602c" stroke-width="0.32"/>
<ellipse cx="457.83" cy="726.4" rx="0.95" ry="0.74" fill="#d98e2c" stroke="#86602c" stroke-width="0.32"/>
<ellipse cx="460.26" cy="726.4" rx="0.95" ry="0.74" fill="#d98e2c" stroke="#86602c" stroke-width="0.32"/>
<ellipse cx="462.69" cy="726.4" rx="0.95" ry="0.74" fill="#d98e2c" stroke="#86602c" stroke-width="0.32"/>
<ellipse cx="465.12" cy="726.4" rx="0.95" ry="0.74" fill="#d98e2c" stroke="#86602c" stroke-width="0.32"/>
<ellipse cx="467.55" cy="726.4" rx="0.95" ry="0.74" fill="#d98e2c" stroke="#86602c" stroke-width="0.32"/>
<ellipse cx="469.98" cy="726.4" rx="0.95" ry="0.74" fill="#d98e2c" stroke="#86602c" stroke-width="0.32"/>
<ellipse cx="472.41" cy="726.4" rx="0.95" ry="0.74" fill="#d98e2c" stroke="#86602c" stroke-width="0.32"/>
<ellipse cx="474.84" cy="726.4" rx="0.95" ry="0.74" fill="#d98e2c" stroke="#86602c" stroke-width="0.32"/>
<ellipse cx="477.27" cy="726.4" rx="0.95" ry="0.74" fill="#d98e2c" stroke="#86602c" stroke-width="0.32"/>
<ellipse cx="479.7" cy="726.4" rx="0.95" ry="0.74" fill="#d98e2c" stroke="#86602c" stroke-width="0.32"/>
<ellipse cx="482.13" cy="726.4" rx="0.95" ry="0.74" fill="#d98e2c" stroke="#86602c" stroke-width="0.32"/>
<ellipse cx="484.56" cy="726.4" rx="0.95" ry="0.74" fill="#d98e2c" stroke="#86602c" stroke-width="0.32"/>
<ellipse cx="486.99" cy="726.4" rx="0.95" ry="0.74" fill="#d98e2c" stroke="#86602c" stroke-width="0.32"/>
<ellipse cx="489.42" cy="726.4" rx="0.95" ry="0.74" fill="#d98e2c" stroke="#86602c" stroke-width="0.32"/>
<ellipse cx="494.28" cy="726.4" rx="0.95" ry="0.74" fill="#d98e2c" stroke="#86602c" stroke-width="0.32"/>
<ellipse cx="499.14" cy="726.4" rx="0.95" ry="0.74" fill="#d98e2c" stroke="#86602c" stroke-width="0.32"/>
<ellipse cx="501.57" cy="726.4" rx="0.95" ry="0.74" fill="#d98e2c" stroke="#86602c" stroke-width="0.32"/>
<ellipse cx="506.43" cy="726.4" rx="0.95" ry="0.74" fill="#d98e2c" stroke="#86602c" stroke-width="0.32"/>
<ellipse cx="511.29" cy="726.4" rx="0.95" ry="0.74" fill="#d98e2c" stroke="#86602c" stroke-width="0.32"/>
<ellipse cx="516.15" cy="726.4" rx="0.95" ry="0.74" fill="#d98e2c" stroke="#86602c" stroke-width="0.32"/>
<ellipse cx="518.58" cy="726.4" rx="0.95" ry="0.74" fill="#d98e2c" stroke="#86602c" stroke-width="0.32"/>
<ellipse cx="521.01" cy="726.4" rx="0.95" ry="0.74" fill="#d98e2c" stroke="#86602c" stroke-width="0.32"/>
<ellipse cx="523.44" cy="726.4" rx="0.95" ry="0.74" fill="#d98e2c" stroke="#86602c" stroke-width="0.32"/>
<ellipse cx="525.87" cy="726.4" rx="0.95" ry="0.74" fill="#d98e2c" stroke="#86602c" stroke-width="0.32"/>
<ellipse cx="528.3" cy="726.4" rx="0.95" ry="0.74" fill="#d98e2c" stroke="#86602c" stroke-width="0.32"/>
<ellipse cx="530.73" cy="726.4" rx="0.95" ry="0.74" fill="#d98e2c" stroke="#86602c" stroke-width="0.32"/>
<ellipse cx="535.59" cy="726.4" rx="0.95" ry="0.74" fill="#d98e2c" stroke="#86602c" stroke-width="0.32"/>
<ellipse cx="538.02" cy="726.4" rx="0.95" ry="0.74" fill="#d98e2c" stroke="#86602c" stroke-width="0.32"/>
<ellipse cx="540.45" cy="726.4" rx="0.95" ry="0.74" fill="#d98e2c" stroke="#86602c" stroke-width="0.32"/>
<ellipse cx="545.31" cy="726.4" rx="0.95" ry="0.74" fill="#d98e2c" stroke="#86602c" stroke-width="0.32"/>
<ellipse cx="547.74" cy="726.4" rx="0.95" ry="0.74" fill="#d98e2c" stroke="#86602c" stroke-width="0.32"/>
<ellipse cx="550.17" cy="726.4" rx="0.95" ry="0.74" fill="#d98e2c" stroke="#86602c" stroke-width="0.32"/>
<ellipse cx="552.6" cy="726.4" rx="0.95" ry="0.74" fill="#d98e2c" stroke="#86602c" stroke-width="0.32"/>
<ellipse cx="557.46" cy="726.4" rx="0.95" ry="0.74" fill="#d98e2c" stroke="#86602c" stroke-width="0.32"/>
<ellipse cx="559.89" cy="726.4" rx="0.95" ry="0.74" fill="#d98e2c" stroke="#86602c" stroke-width="0.32"/>
<ellipse cx="576.9" cy="726.4" rx="0.95" ry="0.74" fill="#d98e2c" stroke="#86602c" stroke-width="0.32"/>
<ellipse cx="598.77" cy="726.4" rx="0.95" ry="0.74" fill="#d98e2c" stroke="#86602c" stroke-width="0.32"/>
<ellipse cx="418.95" cy="816.1" rx="0.95" ry="0.74" fill="#d98e2c" stroke="#86602c" stroke-width="0.32"/>
<ellipse cx="421.38" cy="816.1" rx="0.95" ry="0.74" fill="#d98e2c" stroke="#86602c" stroke-width="0.32"/>
<ellipse cx="423.81" cy="816.1" rx="0.95" ry="0.74" fill="#d98e2c" stroke="#86602c" stroke-width="0.32"/>
<ellipse cx="426.24" cy="816.1" rx="0.95" ry="0.74" fill="#d98e2c" stroke="#86602c" stroke-width="0.32"/>
<ellipse cx="428.67" cy="816.1" rx="0.95" ry="0.74" fill="#d98e2c" stroke="#86602c" stroke-width="0.32"/>
<ellipse cx="431.1" cy="816.1" rx="0.95" ry="0.74" fill="#d98e2c" stroke="#86602c" stroke-width="0.32"/>
<ellipse cx="433.53" cy="816.1" rx="0.95" ry="0.74" fill="#d98e2c" stroke="#86602c" stroke-width="0.32"/>
<ellipse cx="435.96" cy="816.1" rx="0.95" ry="0.74" fill="#d98e2c" stroke="#86602c" stroke-width="0.32"/>
<ellipse cx="438.39" cy="816.1" rx="0.95" ry="0.74" fill="#d98e2c" stroke="#86602c" stroke-width="0.32"/>
<ellipse cx="440.82" cy="816.1" rx="0.95" ry="0.74" fill="#d98e2c" stroke="#86602c" stroke-width="0.32"/>
<ellipse cx="443.25" cy="816.1" rx="0.95" ry="0.74" fill="#d98e2c" stroke="#86602c" stroke-width="0.32"/>
<ellipse cx="445.68" cy="816.1" rx="0.95" ry="0.74" fill="#d98e2c" stroke="#86602c" stroke-width="0.32"/>
<ellipse cx="448.11" cy="816.1" rx="0.95" ry="0.74" fill="#d98e2c" stroke="#86602c" stroke-width="0.32"/>
<ellipse cx="450.54" cy="816.1" rx="0.95" ry="0.74" fill="#d98e2c" stroke="#86602c" stroke-width="0.32"/>
<ellipse cx="452.97" cy="816.1" rx="0.95" ry="0.74" fill="#d98e2c" stroke="#86602c" stroke-width="0.32"/>
<ellipse cx="455.4" cy="816.1" rx="0.95" ry="0.74" fill="#d98e2c" stroke="#86602c" stroke-width="0.32"/>
<ellipse cx="457.83" cy="816.1" rx="0.95" ry="0.74" fill="#d98e2c" stroke="#86602c" stroke-width="0.32"/>
<ellipse cx="460.26" cy="816.1" rx="0.95" ry="0.74" fill="#d98e2c" stroke="#86602c" stroke-width="0.32"/>
<ellipse cx="462.69" cy="816.1" rx="0.95" ry="0.74" fill="#d98e2c" stroke="#86602c" stroke-width="0.32"/>
<ellipse cx="465.12" cy="816.1" rx="0.95" ry="0.74" fill="#d98e2c" stroke="#86602c" stroke-width="0.32"/>
<ellipse cx="467.55" cy="816.1" rx="0.95" ry="0.74" fill="#d98e2c" stroke="#86602c" stroke-width="0.32"/>
<ellipse cx="469.98" cy="816.1" rx="0.95" ry="0.74" fill="#d98e2c" stroke="#86602c" stroke-width="0.32"/>
<ellipse cx="472.41" cy="816.1" rx="0.95" ry="0.74" fill="#d98e2c" stroke="#86602c" stroke-width="0.32"/>
<ellipse cx="474.84" cy="816.1" rx="0.95" ry="0.74" fill="#d98e2c" stroke="#86602c" stroke-width="0.32"/>
<ellipse cx="482.13" cy="816.1" rx="0.95" ry="0.74" fill="#d98e2c" stroke="#86602c" stroke-width="0.32"/>
<ellipse cx="484.56" cy="816.1" rx="0.95" ry="0.74" fill="#d98e2c" stroke="#86602c" stroke-width="0.32"/>
<ellipse cx="486.99" cy="816.1" rx="0.95" ry="0.74" fill="#d98e2c" stroke="#86602c" stroke-width="0.32"/>
<ellipse cx="489.42" cy="816.1" rx="0.95" ry="0.74" fill="#d98e2c" stroke="#86602c" stroke-width="0.32"/>
<ellipse cx="494.28" cy="816.1" rx="0.95" ry="0.74" fill="#d98e2c" stroke="#86602c" stroke-width="0.32"/>
<ellipse cx="501.57" cy="816.1" rx="0.95" ry="0.74" fill="#d98e2c" stroke="#86602c" stroke-width="0.32"/>
<ellipse cx="504" cy="816.1" rx="0.95" ry="0.74" fill="#d98e2c" stroke="#86602c" stroke-width="0.32"/>
<ellipse cx="511.29" cy="816.1" rx="0.95" ry="0.74" fill="#d98e2c" stroke="#86602c" stroke-width="0.32"/>
<ellipse cx="518.58" cy="816.1" rx="0.95" ry="0.74" fill="#d98e2c" stroke="#86602c" stroke-width="0.32"/>
<ellipse cx="525.87" cy="816.1" rx="0.95" ry="0.74" fill="#d98e2c" stroke="#86602c" stroke-width="0.32"/>
<ellipse cx="528.3" cy="816.1" rx="0.95" ry="0.74" fill="#d98e2c" stroke="#86602c" stroke-width="0.32"/>
<ellipse cx="562.32" cy="816.1" rx="0.95" ry="0.74" fill="#d98e2c" stroke="#86602c" stroke-width="0.32"/>
<text x="406.8" y="825" font-size="2.9" text-anchor="middle" fill="#606060">10</text>
<text x="431.1" y="825" font-size="2.9" text-anchor="middle" fill="#606060">20</text>
<text x="455.4" y="825" font-size="2.9" text-anchor="middle" fill="#606060">30</text>
<text x="479.7" y="825" font-size="2.9" text-anchor="middle" fill="#606060">40</text>
<text x="504" y="825" font-size="2.9" text-anchor="middle" fill="#606060">50</text>
<text x="528.3" y="825" font-size="2.9" text-anchor="middle" fill="#606060">60</text>
<text x="552.6" y="825" font-size="2.9" text-anchor="middle" fill="#606060">70</text>
<text x="576.9" y="825" font-size="2.9" text-anchor="middle" fill="#606060">80</text>
<text x="601.2" y="825" font-size="2.9" text-anchor="middle" fill="#606060">90</text>
<text x="394.3" y="727.4" font-size="2.9" text-anchor="end" fill="#606060">Yes</text>
<text x="394.3" y="817.1" font-size="2.9" text-anchor="end" fill="#606060">No</text>
<text x="502.6" y="720" font-size="3.19" text-anchor="middle" fill="#555">Age vs. Listening to Music While Working</text>
<text x="502.8" y="829" font-size="3.1" text-anchor="middle" fill="#555">Age</text>
<text x="387.5" y="771" font-size="3.3" text-anchor="middle" fill="#555" transform="rotate(-90 387.5 771)">Listen to Music While Working</text></g>
</svg></div>

<span class="ln" id="c1l1" style="left:113.00px;top:303.00px;letter-spacing:0.017px">Mximum number of people listen to 2 hrs</span>
<span class="ln" id="c1l2" style="left:113.00px;top:322.00px;letter-spacing:-0.013px">per day</span>
<span class="ln" id="c2l1" style="left:384.00px;top:347.00px;letter-spacing:-0.017px">Anxiety and Depression is More severe in</span>
<span class="ln" id="c2l2" style="left:384.00px;top:366.00px;letter-spacing:-0.019px">age group 20-29 while Insomnia and OCD</span>
<span class="ln" id="c2l3" style="left:384.00px;top:385.00px;letter-spacing:0.276px">in 30-39</span>
<span class="ln" id="c3l1" style="left:113.00px;top:666.00px;letter-spacing:-0.027px">Most favorite genre is Rock followed by</span>
<span class="ln" id="c3l2" style="left:113.00px;top:685.00px;letter-spacing:-0.239px">POP</span>
<span class="ln" id="c4l1" style="left:384.00px;top:594.00px;letter-spacing:-0.068px">Favorite Genre per age group</span>
<span class="ln" id="c5l1" style="left:113.00px;top:847.00px;letter-spacing:-0.020px">Most of Respondent have good impact on</span>
<span class="ln" id="c5l2" style="left:113.00px;top:866.00px;letter-spacing:-0.081px">their Mental health by Music therapy</span>
<span class="ln" id="c6l1" style="left:384.00px;top:847.00px;letter-spacing:0.021px">Most Respondents listen to music while</span>
<span class="ln" id="c6l2" style="left:384.00px;top:866.00px;letter-spacing:0.285px">working</span>
</body>
</html>
